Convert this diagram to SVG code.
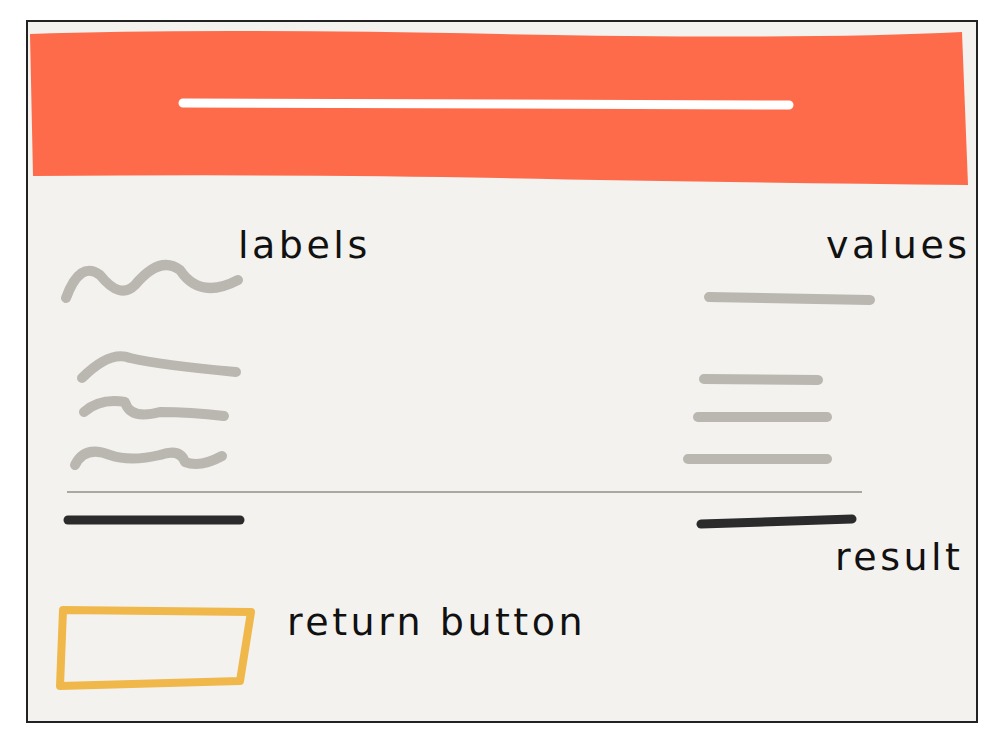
<svg xmlns="http://www.w3.org/2000/svg" width="1000" height="748" viewBox="0 0 1000 748">
<style>
.t{font-family:"DejaVu Sans","Liberation Sans",sans-serif;font-size:38px;letter-spacing:3.5px;fill:#111}
.g{fill:none;stroke:#b9b7af;stroke-width:10;stroke-linecap:round;stroke-linejoin:round}
.k{fill:none;stroke:#2b2b2b;stroke-width:9;stroke-linecap:round}
</style>
<rect width="1000" height="748" fill="#fff"/>
<rect x="27" y="21" width="950" height="701" fill="#f4f2ee" stroke="#222" stroke-width="2"/>
<path d="M30,34 Q200,28 500,34 T962,32 L968,185 Q700,182 500,178 T33,176 Z" fill="#fd6b4b"/>
<line x1="183" y1="103" x2="789" y2="105" stroke="#fff" stroke-width="9" stroke-linecap="round"/>
<text class="t" x="238" y="258">labels</text>
<text class="t" x="826" y="258">values</text>
<text class="t" x="835" y="570">result</text>
<text class="t" x="287" y="635">return button</text>
<g id="labels">
<path class="g" d="M66,298 Q80,260 100,275 Q120,300 135,285 Q160,255 180,270 Q200,300 238,280"/>
<path class="g" d="M82,378 Q110,350 130,358 Q160,365 236,372"/>
<path class="g" d="M84,412 Q100,398 125,402 Q130,420 160,412 Q190,412 224,416"/>
<path class="g" d="M75,465 Q85,445 110,455 Q130,462 160,455 Q180,448 185,462 Q200,468 222,456"/>
</g>
<g id="values">
<path class="g" d="M709,297 L870,300"/>
<path class="g" d="M704,379 L818,380"/>
<path class="g" d="M698,417 L827,417"/>
<path class="g" d="M688,459 L827,459"/>
</g>
<line x1="67" y1="492" x2="862" y2="492" stroke="#aaa8a0" stroke-width="2"/>
<path class="k" d="M68,520 L240,520"/>
<path class="k" d="M701,524 L852,519"/>
<path d="M63,610 L251,612 L240,681 L60,686 Z" fill="none" stroke="#f0b84a" stroke-width="8" stroke-linejoin="round"/>
</svg>
